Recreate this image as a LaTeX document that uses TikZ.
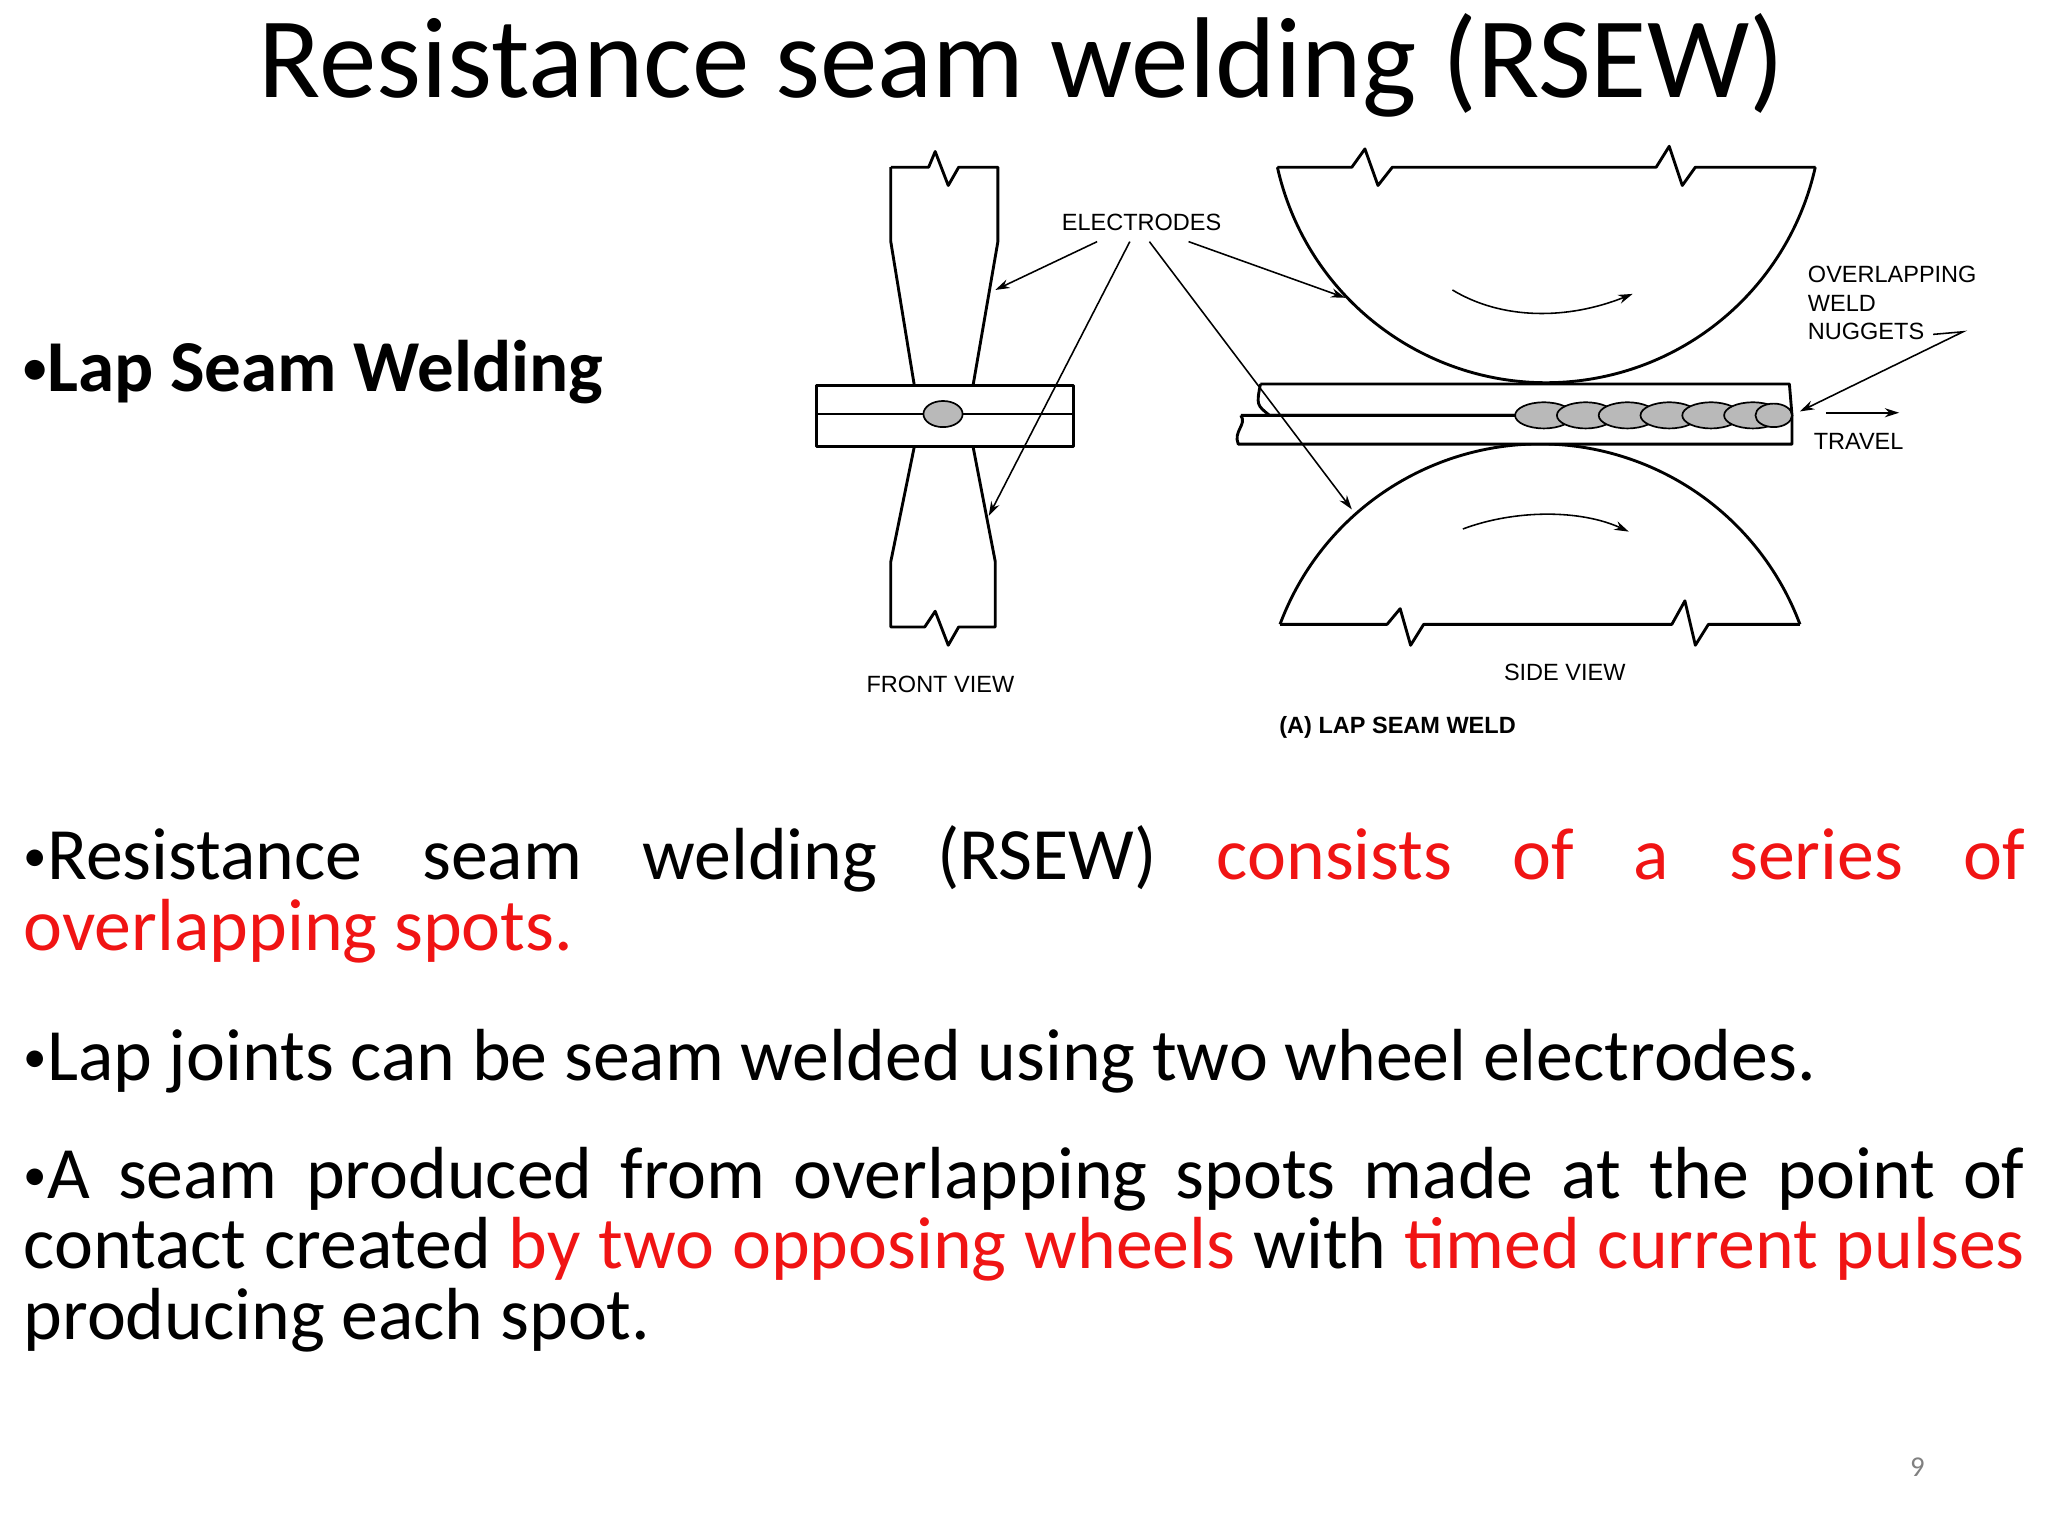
\documentclass[tikz,border=0pt]{standalone}
\usepackage{fontspec}
\setmainfont{Carlito}
\newfontfamily\lab{Liberation Sans}
\usetikzlibrary{arrows.meta}
\definecolor{redtxt}{RGB}{240,20,20}
\newcommand{\bul}{{\fontsize{36}{36}\selectfont\raisebox{6pt}{•}}}
\tikzset{
  part/.style={line width=2.2pt,line join=round},
  lead/.style={line width=1.2pt,-{Stealth[length=11pt,width=7pt]}},
  lbl/.style={font=\lab\fontsize{18}{22}\selectfont,inner sep=0pt},
  nug/.style={draw,line width=1.3pt,fill=gray!55},
  body/.style={anchor=north west,text width=1532pt,align=justify,inner sep=0pt,font=\fontsize{56.5}{54}\selectfont},
}
\begin{document}
\begin{tikzpicture}[x=1pt,y=-1pt]
\useasboundingbox (0,0) rectangle (1568,1176);
% title
\node[font=\fontsize{88}{96}\selectfont] (title) at (782,50) {Resistance seam welding (RSEW)};
\node[anchor=west,font=\bfseries\fontsize{56}{60}\selectfont,inner sep=0pt] (lap) at (18,285) {\bul Lap Seam Welding};
% front view
\draw[part] (682,128)--(711,128)--(716,116)--(726,142)--(734,128)--(764,128)--(764,185)--(745,295);
\draw[part] (682,128)--(682,185)--(700,295);
\draw[part] (625,295) rectangle (822,342);
\draw[part] (625,317)--(822,317);
\draw[nug] (722,317) ellipse[x radius=15,y radius=10];
\draw[part] (700,342)--(682,430)--(682,480)--(708,480)--(716,468)--(726,494)--(734,480)--(762,480)--(762,430)--(745,342);
% side view upper wheel
\draw[part] (978,128)--(1035,128)--(1045,114)--(1055,142)--(1066,128)--(1268,128)--(1278,112)--(1288,142)--(1298,128)--(1390,128);
\draw[part] (978,128) arc[start angle=167.4,end angle=12.6,radius=211];
% lower wheel
\draw[part] (980,478)--(1062,478)--(1072,466)--(1080,494)--(1090,478)--(1280,478)--(1290,460)--(1298,494)--(1308,478)--(1378,478);
\draw[part] (980,478) arc[start angle=200.5,end angle=339.5,radius=212.5];
% plates
\draw[part,fill=white] (965,294)--(1370,294)--(1372,318)--(972,318) .. controls (962,310) .. (965,294);
\draw[part,fill=white] (950,318)--(1372,318)--(1372,340)--(948,340) .. controls (944,330) and (955,325) .. (950,318);
\foreach \x in {1182,1214,1246,1278,1310,1342}
  \draw[nug] (\x,318) ellipse[x radius=22,y radius=10];
\draw[nug] (1358,318) ellipse[x radius=14,y radius=9];
% rotation arrows
\draw[lead] (1112,222) .. controls (1150,245) and (1200,245) .. (1250,225);
\draw[lead] (1120,405) .. controls (1160,390) and (1210,390) .. (1247,407);
% labels
\node[lbl] (el) at (874,170) {ELECTRODES};
\node[lbl,anchor=west,align=left] (ov) at (1384,232) {OVERLAPPING\\WELD\\NUGGETS};
\node[lbl] (tr) at (1423,338) {TRAVEL};
\node[lbl] (fv) at (720,524) {FRONT VIEW};
\node[lbl] (sv) at (1198,515) {SIDE VIEW};
\node[lbl,font=\lab\bfseries\fontsize{18}{22}\selectfont] (cap) at (1070,557) {(A) LAP SEAM WELD};
\coordinate (e1) at (762,222);
\coordinate (e2) at (757,395);
\coordinate (e3) at (1035,390);
\coordinate (e4) at (1030,228);
\draw[lead] (840,185)--(e1);
\draw[lead] (865,185)--(e2);
\draw[lead] (880,185)--(e3);
\draw[lead] (910,185)--(e4);
\coordinate (nt) at (1378,315);
\draw[lead] (1480,256)--(1503,254)--(nt);
\coordinate (ta) at (1398,316);
\coordinate (tb) at (1454,316);
\draw[lead] (ta)--(tb);
% body text
\node[body] (p1) at (18,632)
{\bul Resistance seam welding (RSEW) \textcolor{redtxt}{consists of a series of\linebreak overlapping spots.}};
\node[body] (p2) at (18,788)
{\bul Lap joints can be seam welded using two wheel electrodes.};
\node[body] (p3) at (18,878)
{\bul A seam produced from overlapping spots made at the point of\linebreak contact created \textcolor{redtxt}{by two opposing wheels} with \textcolor{redtxt}{timed current pulses}\linebreak producing each spot.};
\node[font=\fontsize{22}{24}\selectfont,text=gray] (pg) at (1468,1123) {9};
\end{tikzpicture}
\end{document}
